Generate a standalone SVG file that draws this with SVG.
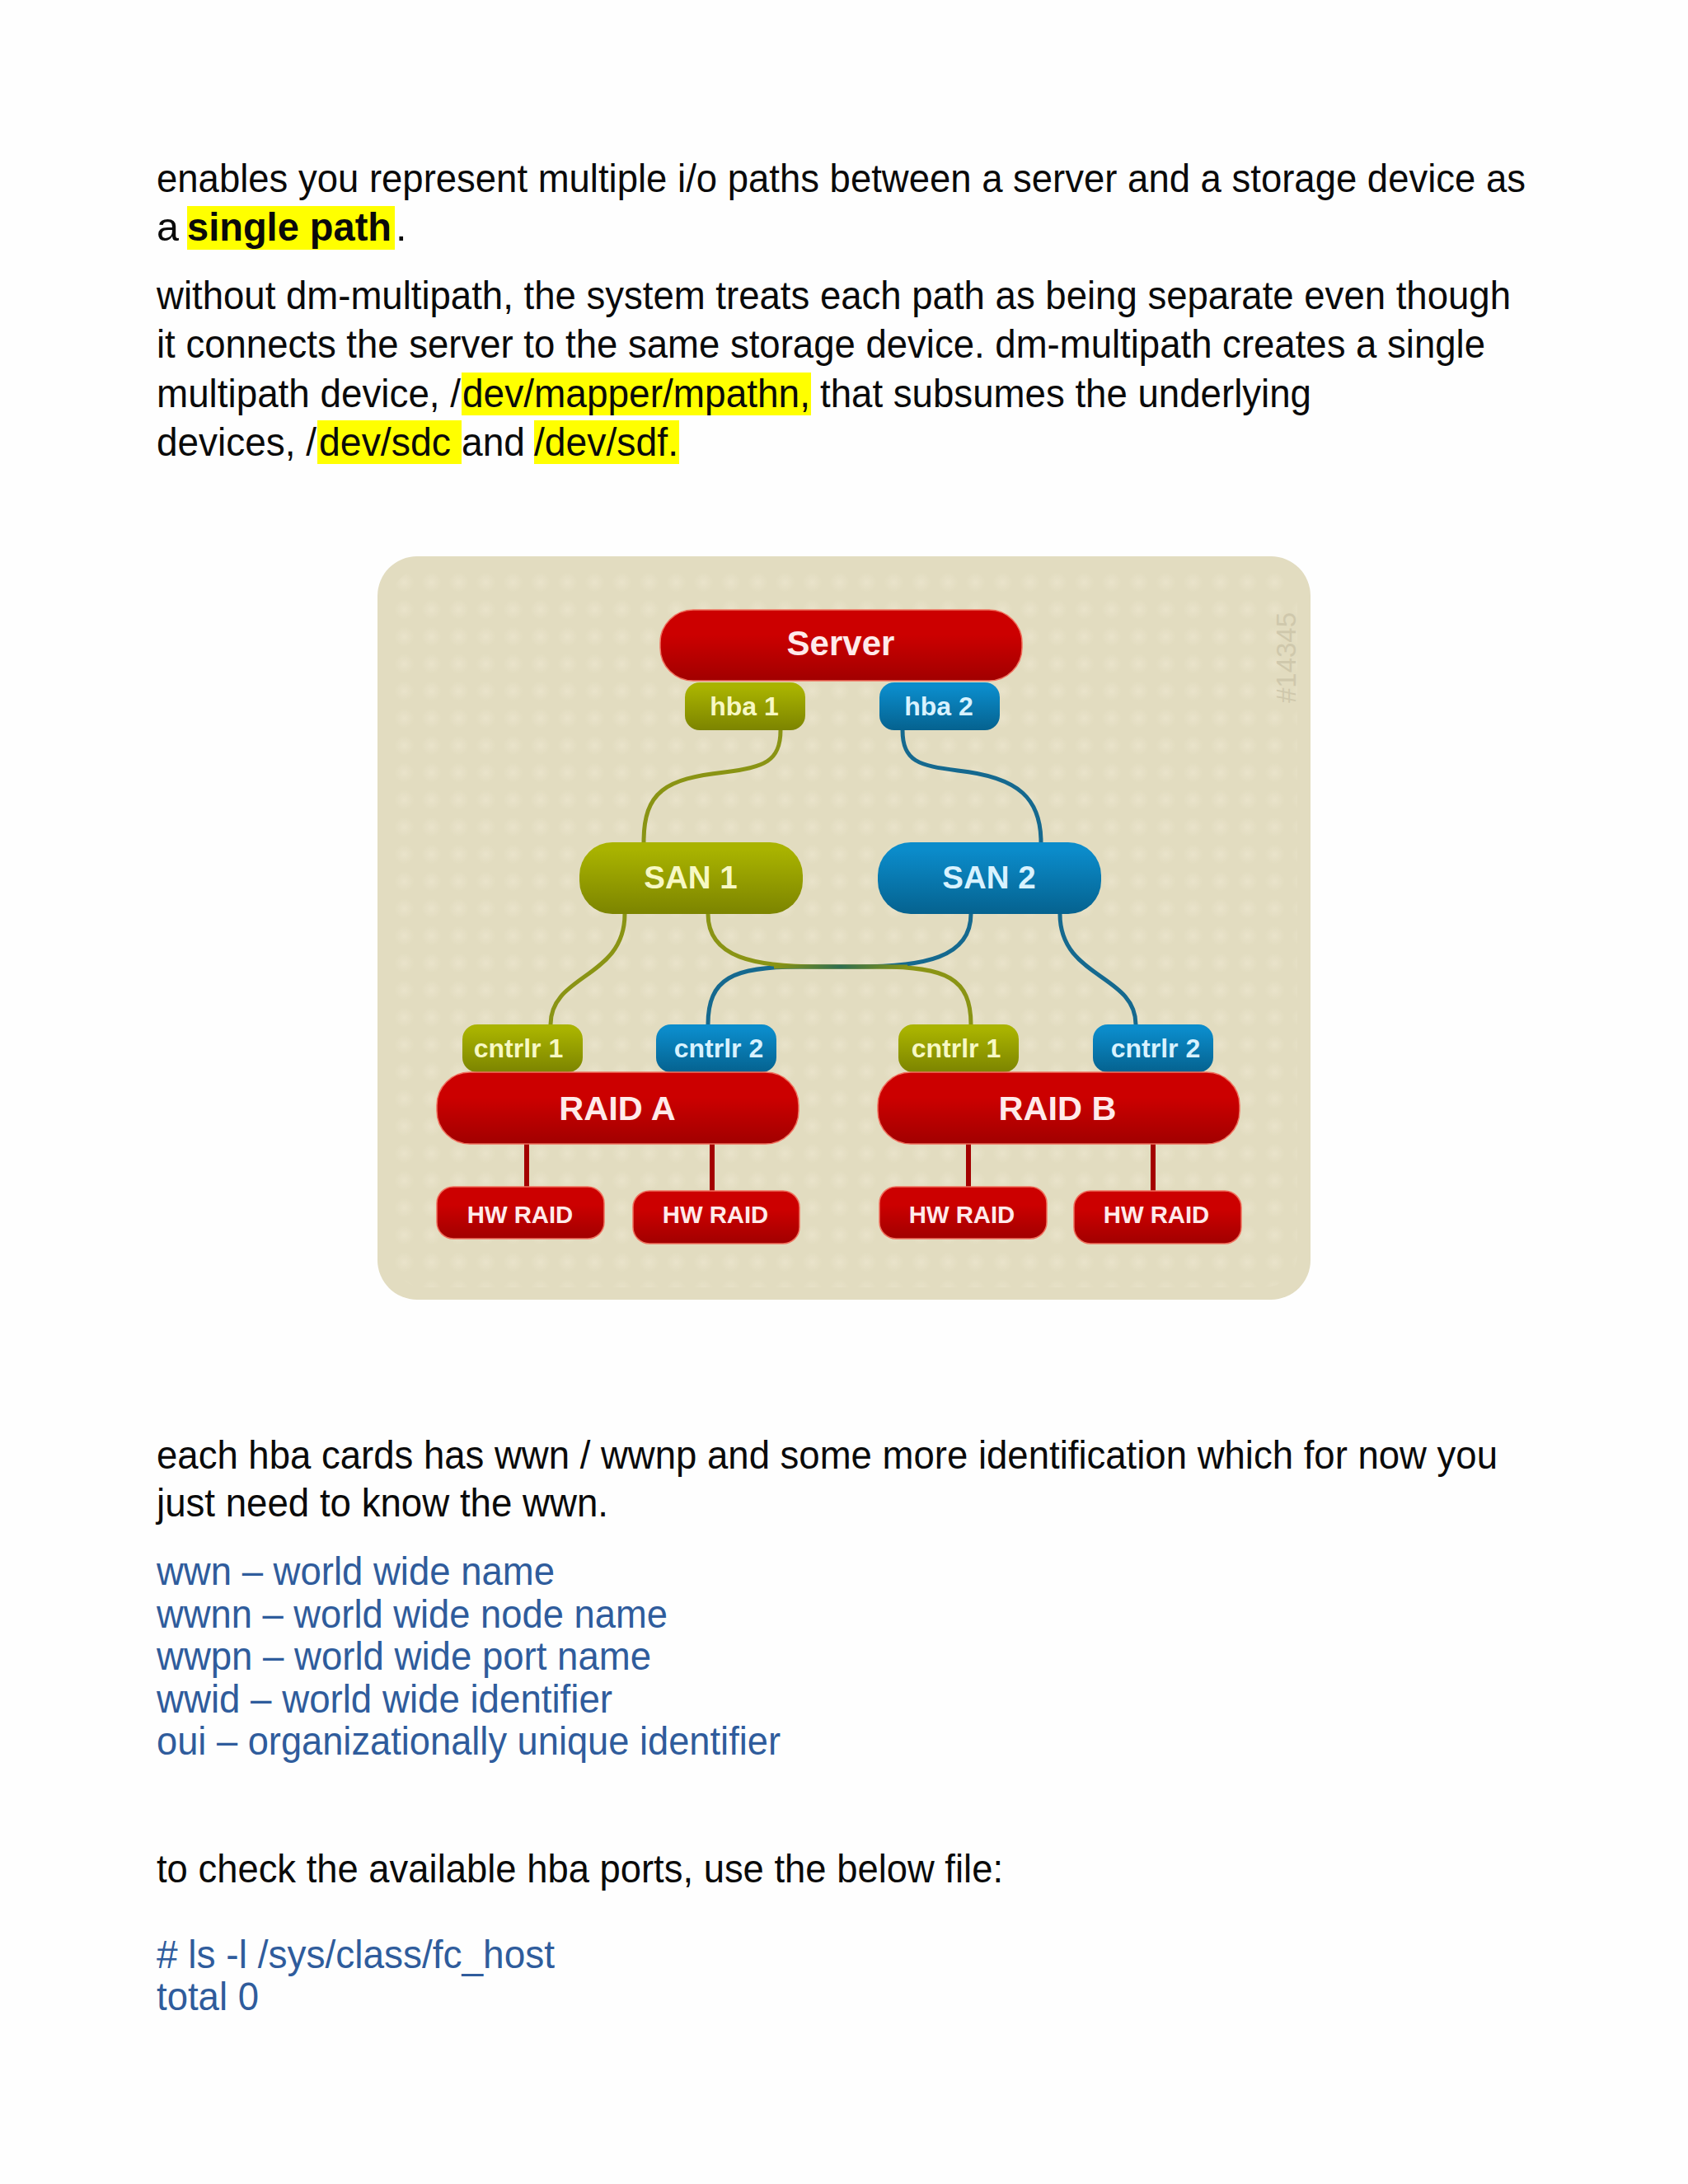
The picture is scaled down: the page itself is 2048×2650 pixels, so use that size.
<svg xmlns="http://www.w3.org/2000/svg" width="2048" height="2650" viewBox="0 0 2048 2650">
<style>
text{font-family:"Liberation Sans",Arial,sans-serif}
.b{font-size:48.5px;fill:#0a0a0a}
.l{font-size:48.5px;fill:#2f5c9c}
.hl{fill:#ffff00}
.n{font-weight:bold;text-anchor:middle}
.rt{fill:#ffeaea}.gt{fill:#f7f8c4}.bt{fill:#d8f2ff}
.red{fill:url(#gr);stroke:#f0705e;stroke-width:1.5}
.grn{fill:url(#gg)}
.blu{fill:url(#gb)}
.c{fill:none;stroke-width:5;stroke-linecap:butt}
.cg{stroke:#8a9414}.cb{stroke:#15698f}.cr{stroke:#a30000;stroke-width:6}
</style>
<defs>
<linearGradient id="gr" x1="0" y1="0" x2="0" y2="1"><stop offset="0.35" stop-color="#cc0000"/><stop offset="1" stop-color="#a10000"/></linearGradient>
<linearGradient id="gg" x1="0" y1="0" x2="0" y2="1"><stop offset="0.1" stop-color="#a9b300"/><stop offset="1" stop-color="#7c8400"/></linearGradient>
<linearGradient id="gb" x1="0" y1="0" x2="0" y2="1"><stop offset="0.1" stop-color="#0b8ccb"/><stop offset="1" stop-color="#05628f"/></linearGradient>
<linearGradient id="gm" gradientUnits="userSpaceOnUse" x1="939" y1="0" x2="1101" y2="0"><stop offset="0" stop-color="#8a9414"/><stop offset="0.5" stop-color="#2f6e50"/><stop offset="1" stop-color="#8a9414"/></linearGradient>
<radialGradient id="dot"><stop offset="0" stop-color="#e9e3ca"/><stop offset="1" stop-color="#e9e3ca" stop-opacity="0"/></radialGradient>
<pattern id="dots" patternUnits="userSpaceOnUse" x="474" y="690" width="33" height="33"><circle cx="16.5" cy="16.5" r="12" fill="url(#dot)"/></pattern>
</defs>
<rect width="2048" height="2650" fill="#fefefe"/>

<g id="intro">
<text class="b" x="190" y="233" textLength="1661" lengthAdjust="spacingAndGlyphs">enables you represent multiple i/o paths between a server and a storage device as</text>
<text class="b" x="190" y="292">a</text>
<rect class="hl" x="227" y="250" width="252" height="53"/>
<text class="b" x="227" y="292" font-weight="bold" textLength="248" lengthAdjust="spacingAndGlyphs">single path</text>
<text class="b" x="480" y="292">.</text>
<text class="b" x="190" y="375" textLength="1643" lengthAdjust="spacingAndGlyphs">without dm-multipath, the system treats each path as being separate even though</text>
<text class="b" x="190" y="434" textLength="1612" lengthAdjust="spacingAndGlyphs">it connects the server to the same storage device. dm-multipath creates a single</text>
<rect class="hl" x="560" y="452" width="424" height="52"/>
<rect class="hl" x="385" y="510" width="175" height="53"/>
<rect class="hl" x="648" y="510" width="176" height="53"/>
<text class="b" x="190" y="494" textLength="369" lengthAdjust="spacingAndGlyphs">multipath device, /</text>
<text class="b" x="561" y="494" textLength="422" lengthAdjust="spacingAndGlyphs">dev/mapper/mpathn,</text>
<text class="b" x="995" y="494" textLength="596" lengthAdjust="spacingAndGlyphs">that subsumes the underlying</text>
<text class="b" x="190" y="553" textLength="194" lengthAdjust="spacingAndGlyphs">devices, /</text>
<text class="b" x="387" y="553" textLength="160" lengthAdjust="spacingAndGlyphs">dev/sdc</text>
<text class="b" x="560" y="553" textLength="77" lengthAdjust="spacingAndGlyphs">and</text>
<text class="b" x="648" y="553" textLength="175" lengthAdjust="spacingAndGlyphs">/dev/sdf.</text>
</g>

<g id="panel">
<rect x="458" y="675" width="1132" height="902" rx="48" fill="#e2dcc0"/>
<rect x="474" y="690" width="1100" height="872" rx="40" fill="url(#dots)"/>
<text x="0" y="0" transform="translate(1572,853) rotate(-90)" font-size="34" fill="#cfc8ac" textLength="110" lengthAdjust="spacingAndGlyphs">#14345</text>
</g>

<g id="connectors">
<path class="c cg" d="M947 886C947 924 927 931 879 937C808 945 781 960 781 1022"/>
<path class="c cb" d="M1095 886C1095 924 1115 929 1162 935C1237 943 1263 970 1263 1022"/>
<path class="c cg" d="M758 1109C758 1187 668 1182 668 1243"/>
<path class="c cb" d="M1286 1109C1286 1187 1378 1182 1378 1243"/>
<path class="c cb" d="M1178 1109C1178 1162 1121 1173 1040 1173H970C889 1173 859 1187 859 1243"/>
<path class="c cg" d="M859 1109C859 1162 915 1173 996 1173H1067C1148 1173 1178 1187 1178 1243"/>
<path d="M939 1173H1101" fill="none" stroke="url(#gm)" stroke-width="5"/>
<path class="c cr" d="M639 1388V1440"/>
<path class="c cr" d="M864 1388V1445"/>
<path class="c cr" d="M1175 1388V1440"/>
<path class="c cr" d="M1399 1388V1445"/>
</g>

<g id="server"><rect class="red" x="801" y="740" width="439" height="86" rx="40"/><text class="n rt" x="1020" y="795" font-size="42">Server</text></g>
<g id="hba1"><rect class="grn" x="831" y="828" width="146" height="58" rx="18"/><text class="n gt" x="903" y="868" font-size="32">hba 1</text></g>
<g id="hba2"><rect class="blu" x="1067" y="828" width="146" height="58" rx="18"/><text class="n bt" x="1139" y="868" font-size="32">hba 2</text></g>
<g id="san1"><rect class="grn" x="703" y="1022" width="271" height="87" rx="40"/><text class="n gt" x="838" y="1078" font-size="38.5">SAN 1</text></g>
<g id="san2"><rect class="blu" x="1065" y="1022" width="271" height="87" rx="40"/><text class="n bt" x="1200" y="1078" font-size="38.5">SAN 2</text></g>
<g id="cntrlr-a1"><rect class="grn" x="561" y="1243" width="146" height="58" rx="18"/><text class="n gt" x="629" y="1283" font-size="32">cntrlr 1</text></g>
<g id="cntrlr-a2"><rect class="blu" x="796" y="1243" width="146" height="58" rx="18"/><text class="n bt" x="872" y="1283" font-size="32">cntrlr 2</text></g>
<g id="cntrlr-b1"><rect class="grn" x="1090" y="1243" width="146" height="58" rx="18"/><text class="n gt" x="1160" y="1283" font-size="32">cntrlr 1</text></g>
<g id="cntrlr-b2"><rect class="blu" x="1326" y="1243" width="146" height="58" rx="18"/><text class="n bt" x="1402" y="1283" font-size="32">cntrlr 2</text></g>
<g id="raid-a"><rect class="red" x="530" y="1301" width="439" height="87" rx="40"/><text class="n rt" x="749" y="1359" font-size="41.5">RAID A</text></g>
<g id="raid-b"><rect class="red" x="1065" y="1301" width="439" height="87" rx="40"/><text class="n rt" x="1283" y="1359" font-size="41.5">RAID B</text></g>
<g id="hw-a1"><rect class="red" x="530" y="1440" width="203" height="63" rx="20"/><text class="n rt" x="631" y="1484" font-size="29.3">HW RAID</text></g>
<g id="hw-a2"><rect class="red" x="768" y="1445" width="202" height="64" rx="20"/><text class="n rt" x="868" y="1484" font-size="29.3">HW RAID</text></g>
<g id="hw-b1"><rect class="red" x="1067" y="1440" width="203" height="63" rx="20"/><text class="n rt" x="1167" y="1484" font-size="29.3">HW RAID</text></g>
<g id="hw-b2"><rect class="red" x="1303" y="1445" width="203" height="64" rx="20"/><text class="n rt" x="1403" y="1484" font-size="29.3">HW RAID</text></g>

<g id="outro">
<text class="b" x="190" y="1782" textLength="1627" lengthAdjust="spacingAndGlyphs">each hba cards has wwn / wwnp and some more identification which for now you</text>
<text class="b" x="190" y="1840" textLength="548" lengthAdjust="spacingAndGlyphs">just need to know the wwn.</text>
<text class="l" x="190" y="1923" textLength="483" lengthAdjust="spacingAndGlyphs">wwn – world wide name</text>
<text class="l" x="190" y="1975" textLength="620" lengthAdjust="spacingAndGlyphs">wwnn – world wide node name</text>
<text class="l" x="190" y="2026" textLength="600" lengthAdjust="spacingAndGlyphs">wwpn – world wide port name</text>
<text class="l" x="190" y="2078" textLength="553" lengthAdjust="spacingAndGlyphs">wwid – world wide identifier</text>
<text class="l" x="190" y="2129" textLength="757" lengthAdjust="spacingAndGlyphs">oui – organizationally unique identifier</text>
<text class="b" x="190" y="2284" textLength="1027" lengthAdjust="spacingAndGlyphs">to check the available hba ports, use the below file:</text>
<text class="l" x="190" y="2388" textLength="483" lengthAdjust="spacingAndGlyphs"># ls -l /sys/class/fc_host</text>
<text class="l" x="190" y="2439" textLength="124" lengthAdjust="spacingAndGlyphs">total 0</text>
</g>
</svg>
